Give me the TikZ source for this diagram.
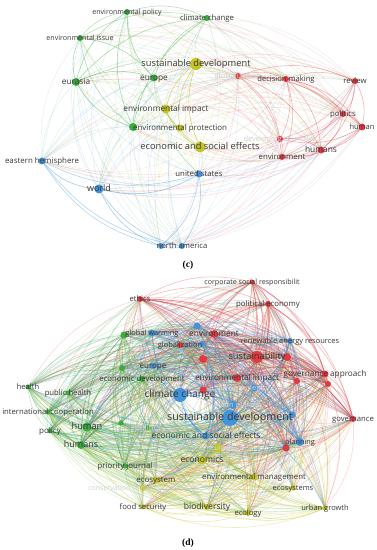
\documentclass[tikz,border=0pt]{standalone}
\usepackage{fontspec}
\setmainfont{Open Sans}
\newfontfamily\capfont{Liberation Serif}
\definecolor{vr}{RGB}{226,56,64}
\definecolor{vg}{RGB}{58,172,62}
\definecolor{vb}{RGB}{66,148,218}
\definecolor{vy}{RGB}{196,196,38}
\definecolor{vtext}{RGB}{55,55,55}
\pgfdeclarelayer{edgelayer}
\pgfsetlayers{edgelayer,main}
\tikzset{
  vnode/.style={circle, inner sep=0pt, outer sep=0pt, draw=none, fill=#1},
  lab/.style={font=\fontsize{#1}{#1}\selectfont, text=vtext, inner sep=0pt, anchor=mid},
  flab/.style={font=\fontsize{#1}{#1}\selectfont, text=vtext!22, inner sep=0pt, anchor=mid},
  caplab/.style={font=\capfont\bfseries\fontsize{9.5}{9.5}\selectfont, text=black, inner sep=0pt},
  sameedge/.style={line width=.6pt},
  crossedge/.style={line width=.5pt},
}
% name/x/y(px, from top)/colour/diameter
\def\Cnodes{cEP/127/12/vg/6, cCC/207/18/vg/6, cEI/80/38/vg/6, cEU/76/82/vg/8,
 cEO/154/78/vg/7, cPG/133/127/vg/8,
 cSD/196/64/vy/12, cIM/166/109/vy/9, cPR/180/128/vy/7, cES/200/147/vy/11,
 cGL/238/76/vr/6, cDM/286/79/vr/6, cRV/355/81/vr/6, cPO/343/114/vr/6, cHU/362/127/vr/7,
 cDC/280/139/vr/6, cEN/282/157/vr/6, cHS/321/150/vr/7,
 cEH/42/161/vb/7, cUS/199/174/vb/7, cWO/99/189/vb/9, cNA/161/246/vb/6, cNB/182/246/vb/6}
\def\Dnodes{dCS/252/282/vr/5, dET/140/299/vr/6, dPE/268/304/vr/6, dEN/214/334/vr/8,
 dGR/180/345/vr/6, dR1/203/359/vr/8, dSU/257/357/vr/12, dR2/287/357/vr/8, dEI/237/378/vr/8,
 dGA/325/374/vr/7, dR3/297/381/vr/6, dR4/328/384/vr/6, dR5/203/390/vr/7, dGV/353/419/vr/6,
 dPR/286/448/vr/7,
 dG1/124/335/vg/7, dG2/122/368/vg/6, dED/142/379/vg/6, dHE/28/387/vg/5, dPH/68/393/vg/5,
 dIC/48/412/vg/5, dHN/87/427/vg/9, dG3/121/423/vg/5, dPY/50/431/vg/5, dPT/148/428/vg/5,
 dHS/81/445/vg/8, dPJ/125/466/vg/5,
 dB1/197/326/vb/7, dGW/152/333/vb/7, dGB/202/344/vb/6, dRE/290/341/vb/6, dEU/153/366/vb/6,
 dCC/180/395/vb/14, dIS/254/388/vb/7, dDM/233/405/vb/8, dSD/230/418/vb/16, dB2/292/415/vb/7,
 dES/206/436/vb/7, dPL/300/442/vb/8,
 dSA/218/448/vy/9, dEC/202/460/vy/9, dEM/254/477/vy/7, dEY/156/480/vy/6, dCO/143/488/vy/6,
 dEX/293/488/vy/5, dFS/143/507/vy/5, dBD/207/507/vy/6, dEL/248/513/vy/6, dUG/325/508/vy/5}
% all links of one map, bent outward from the centre (#2,#3); #4 = cross-link weight
\newcommand\vosedges[4]{%
 \foreach[count=\i] \na/\xa/\ya/\ca/\sa in #1 {
  \foreach[count=\j] \nb/\xb/\yb/\cb/\sb in #1 {
   \ifnum\j>\i\relax
     \pgfmathsetmacro\crs{((\xa-#2)/100)*((\yb-#3)/100)-((\ya-#3)/100)*((\xb-#2)/100)}
     \pgfmathsetmacro\bnd{\crs>0 ? 22 : -22}
     \edef\tmpa{\ca}\edef\tmpb{\cb}
     \ifx\tmpa\tmpb
       \pgfmathsetmacro\op{min(0.65,0.03*(\sa+\sb))}
       \draw[sameedge, draw=\ca, draw opacity=\op] (\na.center) to[bend left=\bnd] (\nb.center);
     \else
       \pgfmathsetmacro\op{min(0.45,#4*(\sa+\sb))}
       \ifodd\numexpr\i+\j\relax\edef\ec{\ca}\else\edef\ec{\cb}\fi
       \draw[crossedge, draw=\ec, draw opacity=\op] (\na.center) to[bend left=\bnd] (\nb.center);
     \fi
   \fi
  }
 }
}
\begin{document}
\begin{tikzpicture}[x=1pt,y=1pt]
\useasboundingbox (0,0) rectangle (376,550);
\foreach \n/\x/\y/\c/\s in \Cnodes {\node[vnode=\c, minimum size=\s pt] (\n) at (\x,{550-\y}) {};}
\foreach \n/\x/\y/\c/\s in \Dnodes {\node[vnode=\c, minimum size=\s pt] (\n) at (\x,{550-\y}) {};}
\begin{pgfonlayer}{edgelayer}
\fill[white] (0,0) rectangle (376,550);
\vosedges{\Cnodes}{200}{130}{0.011}
\vosedges{\Dnodes}{190}{400}{0.02}
\end{pgfonlayer}
% ---- labels (c)
\node[lab=7.1] (cEP-l) at (cEP) {environmental policy};
\node[lab=7.7] (cCC-l) at (cCC) {climate change};
\node[lab=7.1] (cEI-l) at (cEI) {environmental issue};
\node[lab=9.3] (cSD-l) at (cSD) {sustainable development};
\node[lab=8.3] (cEU-l) at (cEU) {eurasia};
\node[lab=8.3] (cEO-l) at (cEO) {europe};
\node[flab=7.9] (cGL-l) at (cGL) {globalization};
\node[lab=7.6] (cDM-l) at (cDM) {decision making};
\node[lab=7.8] (cRV-l) at (cRV) {review};
\node[lab=8.3] (cIM-l) at (cIM) {environmental impact};
\node[lab=7.8] (cPO-l) at (cPO) {politics};
\node[lab=7.9] (cPR-l) at (cPR) {environmental protection};
\node[lab=7.5] (cHU-l) at (cHU) {human};
\node[flab=7.5] (cDC-l) at (cDC) {developing countries};
\node[lab=9.3] (cES-l) at (cES) {economic and social effects};
\node[lab=7.8] (cEN-l) at (cEN) {environment};
\node[lab=8.4] (cHS-l) at (cHS) {humans};
\node[lab=7.9] (cEH-l) at (cEH) {eastern hemisphere};
\node[lab=7.8] (cUS-l) at (cUS) {united states};
\node[lab=9] (cWO-l) at (cWO) {world};
\node[lab=7.7] (cNB-l) at (cNB) {north america};
\node[caplab] (cap-c) at (188,285) {(c)};
% ---- labels (d)
\node[lab=7.1] (dCS-l) at (dCS) {corporate social responsibilit};
\node[lab=7.6] (dET-l) at (dET) {ethics};
\node[lab=7.8] (dPE-l) at (dPE) {political economy};
\node[lab=7.4] (dGW-l) at (dGW) {global warming};
\node[lab=8.3] (dEN-l) at (dEN) {environment};
\node[lab=7.5] (dRE-l) at (dRE) {renewable energy resources};
\node[lab=7.5] (dGR-l) at (dGR) {globalization};
\node[lab=9.3] (dSU-l) at (dSU) {sustainability};
\node[lab=8] (dEU-l) at (dEU) {europe};
\node[lab=7.8] (dED-l) at (dED) {economic development};
\node[lab=8.2] (dEI-l) at (dEI) {environmental impact};
\node[lab=8.2] (dGA-l) at (dGA) {governance approach};
\node[lab=7.6] (dHE-l) at (dHE) {health};
\node[lab=7.7] (dPH-l) at (dPH) {public health};
\node[lab=10.1] (dCC-l) at (dCC) {climate change};
\node[flab=7.5] (dIS-l) at (dIS) {environmental issue};
\node[lab=7.7] (dIC-l) at (dIC) {international cooperation};
\node[lab=10.7] (dSD-l) at (dSD) {sustainable development};
\node[flab=7.5] (dDM-l) at (dDM) {decision making};
\node[lab=7.7] (dGV-l) at (dGV) {governance};
\node[lab=9.2] (dHN-l) at (dHN) {human};
\node[lab=8] (dPY-l) at (dPY) {policy};
\node[flab=8] (dPT-l) at (dPT) {politics};
\node[lab=8.5] (dES-l) at (dES) {economic and social effects};
\node[lab=9] (dHS-l) at (dHS) {humans};
\node[lab=7.3] (dPL-l) at (dPL) {planning};
\node[flab=7] (dSA-l) at ([xshift=-21pt]dSA.center) {sustainable agriculture};
\node[lab=8.6] (dEC-l) at (dEC) {economics};
\node[lab=7.9] (dPJ-l) at (dPJ) {priority journal};
\node[lab=7.8] (dEM-l) at (dEM) {environmental management};
\node[lab=7.9] (dEY-l) at (dEY) {ecosystem};
\node[flab=7] (dCO-l) at (dCO) {conservation of natural resources};
\node[lab=7.5] (dEX-l) at (dEX) {ecosystems};
\node[lab=7.7] (dFS-l) at (dFS) {food security};
\node[lab=8.6] (dBD-l) at (dBD) {biodiversity};
\node[lab=7.6] (dEL-l) at (dEL) {ecology};
\node[lab=7.5] (dUG-l) at (dUG) {urban growth};
\node[caplab] (cap-d) at (188,7) {(d)};
\end{tikzpicture}
\end{document}
